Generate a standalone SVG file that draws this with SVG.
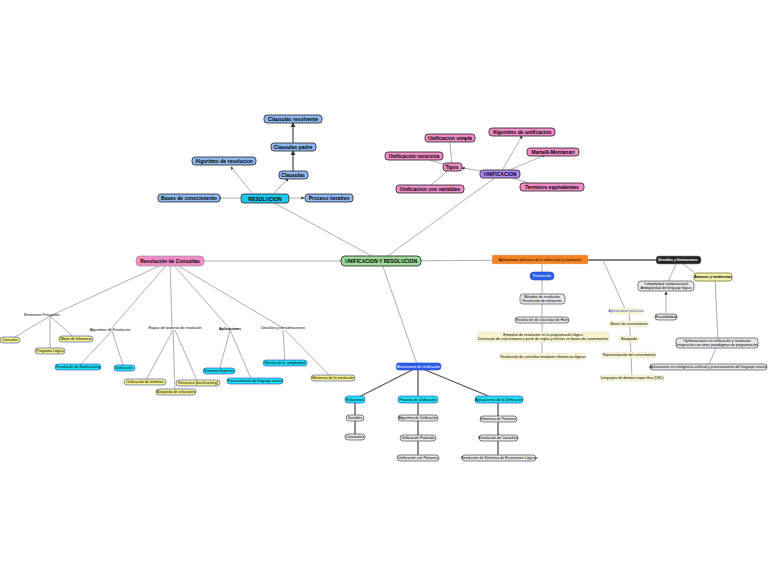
<svg xmlns="http://www.w3.org/2000/svg" width="768" height="578" viewBox="0 0 768 578">
<style>
text{font-family:"Liberation Sans",Arial,sans-serif;text-anchor:middle;dominant-baseline:central}
.b{font-size:5px;font-weight:bold}
.s{font-size:3.6px}
.e line,.e path{stroke:#999;stroke-width:0.8;fill:none}
.d{stroke:#555!important;stroke-width:1.3!important}
.lb rect{fill:#8fb8ee;stroke:#222;stroke-width:0.8}
.pk rect{fill:#f08cc8;stroke:#222;stroke-width:0.8}
.y rect{fill:#f5f08a;stroke:#3048c8;stroke-width:0.6}
.c rect{fill:#22e0f0;stroke:#3048c8;stroke-width:0.6}
.g rect{fill:#e6e8ea;stroke:#333;stroke-width:0.6}
.cr rect{fill:#f8f4d0;stroke:#ddd;stroke-width:0.4}
</style>
<defs><marker id="a" viewBox="0 0 6 6" refX="5" refY="3" markerWidth="4" markerHeight="4" orient="auto"><path d="M0,0L6,3L0,6z" fill="#333"/></marker></defs>
<rect width="768" height="578" fill="#fff"/>
<g class="e">
<line x1="381" y1="261" x2="265" y2="198"/><line x1="381" y1="261" x2="500" y2="174"/>
<line x1="381" y1="261" x2="170" y2="261"/><line x1="381" y1="261" x2="538" y2="260"/>
<line x1="381" y1="261" x2="418" y2="367"/>
<line x1="240" y1="198" x2="218" y2="198" marker-end="url(#a)"/><line x1="290" y1="198" x2="304" y2="198" marker-end="url(#a)"/>
<line x1="252" y1="193" x2="231" y2="167" marker-end="url(#a)"/><line x1="274" y1="193" x2="288" y2="179" marker-end="url(#a)"/>
<line class="d" x1="293" y1="171" x2="293" y2="151" marker-end="url(#a)"/><line class="d" x1="293" y1="143" x2="293" y2="123" marker-end="url(#a)"/>
<line x1="500" y1="174" x2="462" y2="168" marker-end="url(#a)"/><line x1="500" y1="174" x2="522" y2="136" marker-end="url(#a)"/>
<line x1="500" y1="174" x2="545" y2="155" marker-end="url(#a)"/><line x1="500" y1="174" x2="535" y2="185" marker-end="url(#a)"/>
<line x1="452" y1="167" x2="450" y2="142"/><line x1="452" y1="167" x2="430" y2="160"/><line x1="452" y1="167" x2="430" y2="186"/>
<line x1="170" y1="261" x2="50" y2="316"/><line x1="170" y1="261" x2="110" y2="330"/><line x1="170" y1="261" x2="172" y2="329"/><line x1="170" y1="261" x2="230" y2="329"/><line x1="170" y1="261" x2="283" y2="328"/>
<line x1="50" y1="316" x2="10" y2="340"/><line x1="50" y1="316" x2="50" y2="351"/><line x1="50" y1="316" x2="76" y2="339"/>
<line x1="112" y1="331" x2="78" y2="367"/><line x1="112" y1="331" x2="124" y2="368"/>
<line x1="173" y1="330" x2="145" y2="382"/><line x1="173" y1="330" x2="175" y2="392"/><line x1="175" y1="330" x2="198" y2="383"/>
<line x1="230" y1="330" x2="219" y2="371"/><line x1="230" y1="330" x2="252" y2="381"/>
<line x1="283" y1="330" x2="285" y2="363"/><line x1="285" y1="330" x2="332" y2="378"/>
<line class="d" x1="418" y1="367" x2="355" y2="399"/><line class="d" x1="418" y1="367" x2="418" y2="399"/><line class="d" x1="418" y1="367" x2="498" y2="400"/>
<line class="d" x1="355" y1="399" x2="355" y2="437"/><line class="d" x1="418" y1="399" x2="418" y2="458"/><line class="d" x1="498" y1="400" x2="498" y2="458"/>
<line x1="542" y1="260" x2="542" y2="356"/>
<line class="d" x1="585" y1="260" x2="678" y2="260"/>
<line x1="603" y1="260" x2="626" y2="311"/><line x1="629" y1="311" x2="632" y2="378"/>
<line x1="678" y1="260" x2="666" y2="286"/><line x1="678" y1="260" x2="700" y2="277"/>
<line x1="666" y1="313" x2="666" y2="292" marker-end="url(#a)"/>
<line x1="715" y1="277" x2="718" y2="343"/><line x1="718" y1="343" x2="708" y2="367"/>
</g>
<g id="root"><rect x="341" y="256" width="80" height="10" rx="4" fill="#9ed89a" stroke="#222" stroke-width="0.8"/><text x="381" y="261" class="b">UNIFICACION Y RESOLUCION</text></g>
<g id="res"><rect x="241" y="194" width="48" height="9" rx="3" fill="#1ec8f0" stroke="#222" stroke-width="0.8"/><text x="265" y="198.5" class="b">RESOLUCION</text></g>
<g id="r1" class="lb"><rect x="158" y="194" width="62" height="8" rx="3"/><text x="189" y="198" class="b">Bases de conocimiento</text></g>
<g id="r2" class="lb"><rect x="305" y="194" width="48" height="8" rx="3"/><text x="329" y="198" class="b">Proceso iterativo</text></g>
<g id="r3" class="lb"><rect x="192" y="157" width="64" height="8" rx="3"/><text x="224" y="161" class="b">Algoritmo de resolucion</text></g>
<g id="r4" class="lb"><rect x="279" y="171" width="29" height="8" rx="3"/><text x="293" y="175" class="b">Clausulas</text></g>
<g id="r5" class="lb"><rect x="271" y="143" width="45" height="8" rx="3"/><text x="293" y="147" class="b">Clausulas padre</text></g>
<g id="r6" class="lb"><rect x="264" y="115" width="58" height="8" rx="3"/><text x="293" y="119" class="b">Clausulas resolvente</text></g>
<g id="uni"><rect x="480" y="170" width="40" height="8" rx="3" fill="#b08cf0" stroke="#222" stroke-width="0.8"/><text x="500" y="174" class="b">UNIFICACION</text></g>
<g id="u1" class="pk"><rect x="443" y="163" width="19" height="8" rx="3"/><text x="452" y="167" class="b">Tipos</text></g>
<g id="u2" class="pk"><rect x="425" y="134" width="50" height="8" rx="3"/><text x="450" y="138" class="b">Unificacion simple</text></g>
<g id="u3" class="pk"><rect x="385" y="152" width="58" height="8" rx="3"/><text x="414" y="156" class="b">Unificacion recursiva</text></g>
<g id="u4" class="pk"><rect x="396" y="185" width="68" height="8" rx="3"/><text x="430" y="189" class="b">Unificacion con variables</text></g>
<g id="u5" class="pk"><rect x="489" y="128" width="66" height="8" rx="3"/><text x="522" y="132" class="b">Algoritmo de unificacion</text></g>
<g id="u6" class="pk"><rect x="527" y="148" width="52" height="8" rx="3"/><text x="553" y="152" class="b">Martelli-Montanari</text></g>
<g id="u7" class="pk"><rect x="520" y="183" width="64" height="8" rx="3"/><text x="552" y="187" class="b">Terminos equivalentes</text></g>
<g id="rc"><rect x="136" y="256" width="68" height="10" rx="4" fill="#f08cc8" stroke="#888" stroke-width="0.6"/><text x="170" y="261" class="b">Resolución de Consultas</text></g>
<text x="42" y="315" class="s">Elementos Principales</text>
<text x="110" y="330" class="s">Algoritmos de Resolución</text>
<text x="175" y="328" class="s">Etapas del proceso de resolución</text>
<text x="230" y="329" class="s" font-weight="bold">Aplicaciones</text>
<text x="283" y="328" class="s">Desafíos y consideraciones</text>
<g id="l1" class="y"><rect x="0" y="337" width="20" height="6" rx="3"/><text x="10" y="340" class="s">Consultas</text></g>
<g id="l2" class="y"><rect x="35" y="348" width="30" height="6" rx="3"/><text x="50" y="351" class="s">Programa Lógico</text></g>
<g id="l3" class="y"><rect x="59" y="336" width="34" height="6" rx="3"/><text x="76" y="339" class="s">Motor de Inferencia</text></g>
<g id="l4" class="c"><rect x="55" y="364" width="46" height="6" rx="3"/><text x="78" y="367" class="s">Resolución de Backtracking</text></g>
<g id="l5" class="c"><rect x="114" y="365" width="21" height="6" rx="3"/><text x="124" y="368" class="s">Unificación</text></g>
<g id="l6" class="y"><rect x="124" y="379" width="42" height="6" rx="3"/><text x="145" y="382" class="s">Unificación de términos</text></g>
<g id="l7" class="y"><rect x="156" y="389" width="40" height="6" rx="3"/><text x="176" y="392" class="s">Búsqueda de soluciones</text></g>
<g id="l8" class="y"><rect x="176" y="380" width="44" height="6" rx="3"/><text x="198" y="383" class="s">Retroceso (backtracking)</text></g>
<g id="l9" class="c"><rect x="203" y="368" width="32" height="6" rx="3"/><text x="219" y="371" class="s">Sistemas Expertos</text></g>
<g id="l10" class="c"><rect x="227" y="378" width="56" height="6" rx="3"/><text x="255" y="381" class="s">Procesamiento de lenguaje natural</text></g>
<g id="l11" class="c"><rect x="263" y="360" width="44" height="6" rx="3"/><text x="285" y="363" class="s">Manejo de la complejidad</text></g>
<g id="l12" class="y"><rect x="311" y="375" width="44" height="6" rx="3"/><text x="333" y="378" class="s">Eficiencia de la resolución</text></g>
<g id="mu"><rect x="396" y="363" width="45" height="7" rx="3" fill="#2a5ee8" stroke="#3048c8" stroke-width="0.6"/><text x="418" y="366.5" class="s" fill="#fff">Mecanismos de Unificación</text></g>
<g id="m1" class="c"><rect x="345" y="396" width="20" height="7" rx="3"/><text x="355" y="399.5" class="s">Relaciones</text></g>
<g id="m2" class="g"><rect x="346" y="415" width="18" height="6" rx="3"/><text x="355" y="418" class="s">Variables</text></g>
<g id="m3" class="g"><rect x="345" y="434" width="20" height="6" rx="3"/><text x="355" y="437" class="s">Constantes</text></g>
<g id="m4" class="c"><rect x="398" y="396" width="40" height="7" rx="3"/><text x="418" y="399.5" class="s">Proceso de Unificación</text></g>
<g id="m5" class="g"><rect x="398" y="415" width="40" height="6" rx="3"/><text x="418" y="418" class="s">Algoritmo de Unificación</text></g>
<g id="m6" class="g"><rect x="400" y="435" width="36" height="6" rx="3"/><text x="418" y="438" class="s">Unificación Profunda</text></g>
<g id="m7" class="g"><rect x="397" y="455" width="42" height="6" rx="3"/><text x="418" y="458" class="s">Unificación con Patrones</text></g>
<g id="m8" class="c"><rect x="475" y="396" width="48" height="7" rx="3"/><text x="499" y="399.5" class="s">Aplicaciones de la Unificación</text></g>
<g id="m9" class="g"><rect x="480" y="416" width="37" height="6" rx="3"/><text x="498" y="419" class="s">Inferencia de Patrones</text></g>
<g id="m10" class="g"><rect x="479" y="435" width="39" height="6" rx="3"/><text x="498" y="438" class="s">Resolución de Consultas</text></g>
<g id="m11" class="g"><rect x="462" y="455" width="74" height="6" rx="3"/><text x="499" y="458" class="s">Resolución de Sistemas de Ecuaciones Lógicas</text></g>
<g id="ap"><rect x="492" y="255" width="96" height="9" rx="1" fill="#f58220" stroke="#ccc" stroke-width="0.4"/><text x="540" y="259.5" class="s">Aplicaciones prácticas de la unificación y resolución</text></g>
<g id="a1"><rect x="530" y="272" width="24" height="8" rx="4" fill="#2a5ee8" stroke="#3048c8" stroke-width="0.6"/><text x="542" y="276" class="s" fill="#fff">Resolución</text></g>
<g id="a2" class="g"><rect x="520" y="294" width="45" height="10" rx="3"/><text x="542" y="297" class="s">Métodos de resolución</text><text x="542" y="301" class="s">Resolución de refutación</text></g>
<g id="a3" class="g"><rect x="515" y="317" width="54" height="6" rx="3"/><text x="542" y="320" class="s">Resolución de cláusulas de Horn</text></g>
<g id="a4" class="cr"><rect x="477" y="332" width="132" height="10" rx="3"/><text x="543" y="335" class="s">Ejemplos de resolución en la programación lógica</text><text x="543" y="339" class="s">Derivación de conclusiones a partir de reglas y hechos en bases de conocimiento</text></g>
<g id="a5" class="cr"><rect x="500" y="353" width="86" height="7" rx="3"/><text x="543" y="356.5" class="s">Resolución de consultas mediante inferencias lógicas</text></g>
<g id="dl"><rect x="656" y="256" width="45" height="8" rx="3" fill="#222" stroke="#888" stroke-width="0.6"/><text x="678" y="260" class="s" fill="#fff" font-weight="bold">Desafíos y limitaciones</text></g>
<g id="d1" class="g"><rect x="638" y="281" width="56" height="10" rx="3"/><text x="666" y="284" class="s">Complejidad computacional</text><text x="666" y="288" class="s">Ambigüedad del lenguaje lógico</text></g>
<g id="d2" class="g"><rect x="655" y="314" width="22" height="6" rx="3"/><text x="666" y="317" class="s">Escalabilidad</text></g>
<g id="d3"><rect x="694" y="273" width="38" height="8" rx="3" fill="#f5f0b0" stroke="#777722" stroke-width="0.8"/><text x="713" y="277" class="s" font-weight="bold">Avances y tendencias</text></g>
<g id="d4" class="g"><rect x="676" y="338" width="82" height="10" rx="3"/><text x="717" y="341" class="s">Optimizaciones en unificación y resolución</text><text x="717" y="345" class="s">Integración con otros paradigmas de programación</text></g>
<g id="d5" class="g"><rect x="650" y="364" width="117" height="6" rx="3"/><text x="708" y="367" class="s">Aplicaciones en inteligencia artificial y procesamiento del lenguaje natural</text></g>
<g id="p1" class="cr"><rect x="609" y="308" width="34" height="6" rx="3"/><text x="626" y="311" class="s" fill="#3048c8">Aplicaciones prácticas</text></g>
<g id="p2" class="cr"><rect x="609" y="321" width="40" height="6" rx="3"/><text x="629" y="324" class="s">Bases de conocimiento</text></g>
<g id="p3" class="cr"><rect x="619" y="336" width="20" height="6" rx="3"/><text x="629" y="339" class="s">Búsqueda</text></g>
<g id="p4" class="cr"><rect x="602" y="352" width="54" height="6" rx="3"/><text x="629" y="355" class="s">Representación del conocimiento</text></g>
<g id="p5" class="cr"><rect x="600" y="375" width="64" height="6" rx="3"/><text x="632" y="378" class="s">Lenguajes de dominio específico (DSL)</text></g>
</svg>
